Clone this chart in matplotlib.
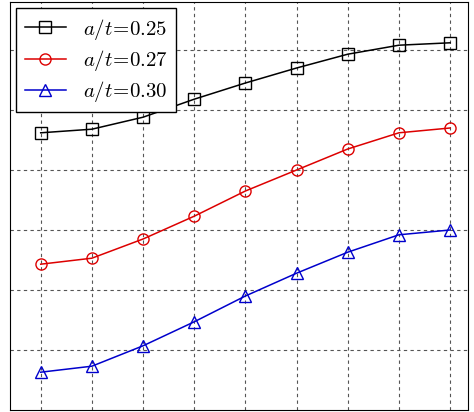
import numpy as np
import matplotlib
matplotlib.use('Agg')
import matplotlib.pyplot as plt

plt.rcParams['mathtext.fontset'] = 'cm'
plt.rcParams['font.family'] = 'DejaVu Serif'

# 축 값 (그림에서 읽은 값, 임의 단위)
x = [0, 1, 2, 3, 4, 5, 6, 7, 8]
y_025 = [4.62, 4.68, 4.88, 5.18, 5.45, 5.70, 5.93, 6.08, 6.12]
y_027 = [2.43, 2.53, 2.85, 3.23, 3.65, 4.00, 4.35, 4.62, 4.70]
y_030 = [0.63, 0.73, 1.07, 1.47, 1.90, 2.28, 2.63, 2.92, 3.00]
labels = [r'$a/t\!=\!0.25$', r'$a/t\!=\!0.27$', r'$a/t\!=\!0.30$']

fig = plt.figure(figsize=(4.74, 4.12), dpi=100)
ax = fig.add_axes([10 / 474, 2 / 412, 458 / 474, 408 / 412])

ax.plot(x, y_025, color='black', marker='s', ms=8, mfc='none', lw=1.1, label=labels[0])
ax.plot(x, y_027, color='#dd0000', marker='o', ms=8, mfc='none', lw=1.1, label=labels[1])
ax.plot(x, y_030, color='#0000cc', marker='^', ms=9, mfc='none', lw=1.1, label=labels[2])

ax.set_xlim(-0.6, 8.35)
ax.set_ylim(0, 6.8)
ax.set_xticks(np.arange(0, 9))
ax.set_yticks(np.arange(1, 7))
ax.tick_params(labelleft=False, labelbottom=False, length=0)
ax.grid(True, linestyle=(0, (3, 3)), color='#555555', lw=0.8)

ax.legend(loc='upper left', fontsize=15, fancybox=False, edgecolor='black',
          framealpha=1, handlelength=2.0, borderaxespad=0.3, labelspacing=0.3)

fig.savefig('out.png', dpi=100)
